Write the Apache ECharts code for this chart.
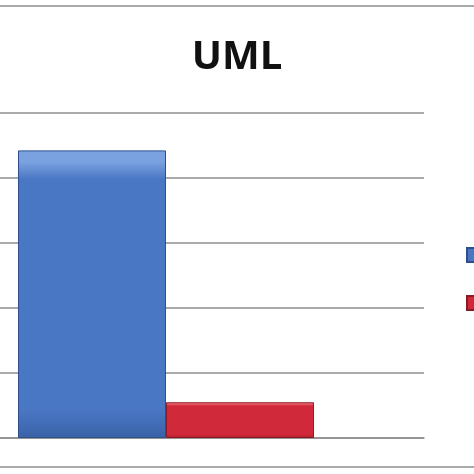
<!DOCTYPE html>
<html>
<head>
<meta charset="utf-8">
<script src="https://cdn.jsdelivr.net/npm/echarts@6/dist/echarts.min.js"></script>
<style>html,body{margin:0;padding:0;background:#fff}#c{width:474px;height:474px}</style>
</head>
<body>
<div id="c"></div>
<script>
var categories = ['UML'];
var seriesNames = ['Yes', 'No'];
var blueValues = [88.5];
var redValues = [11];
var yTicks = [0, 20, 40, 60, 80, 100];

var chart = echarts.init(document.getElementById('c'), null, {renderer: 'canvas'});
function grad(light, main, dark) {
  return new echarts.graphic.LinearGradient(0, 0, 0, 1, [
    {offset: 0, color: light},
    {offset: 0.04, color: light},
    {offset: 0.1, color: main},
    {offset: 0.9, color: main},
    {offset: 1, color: dark}
  ]);
}
chart.setOption({
  animation: false,
  backgroundColor: '#ffffff',
  title: {
    text: 'UML',
    left: 'center',
    top: 33,
    textStyle: {fontFamily: 'Open Sans', fontWeight: 'bold', fontSize: 40, color: '#111'}
  },
  graphic: [{
    type: 'rect',
    shape: {x: -2, y: 6, width: 478, height: 461},
    style: {fill: 'none', stroke: '#8e8e8e', lineWidth: 1.5},
    silent: true
  }],
  legend: {
    orient: 'vertical',
    left: 466,
    top: 247,
    padding: 0,
    itemWidth: 14,
    itemHeight: 14,
    itemGap: 32,
    icon: 'rect',
    textStyle: {fontSize: 12, color: '#333'},
    data: seriesNames
  },
  grid: {left: -92, width: 516, top: 113, bottom: 36, outerBoundsMode: 'none', containLabel: false},
  xAxis: {
    type: 'category',
    data: categories,
    axisLine: {show: true, lineStyle: {color: '#8e8e8e', width: 1.5}},
    axisTick: {show: false},
    axisLabel: {show: false}
  },
  yAxis: {
    type: 'value',
    min: yTicks[0],
    max: yTicks[yTicks.length - 1],
    interval: yTicks[1] - yTicks[0],
    axisLine: {show: false},
    axisTick: {show: false},
    axisLabel: {show: false},
    splitLine: {lineStyle: {color: '#8e8e8e', width: 1.5}}
  },
  series: [{
    name: seriesNames[0],
    type: 'bar',
    data: blueValues,
    barWidth: 148,
    barGap: '0%',
    itemStyle: {color: grad('#7aa2e0', '#4a77c4', '#3a62a8'), borderColor: '#2e4f8c', borderWidth: 1}
  }, {
    name: seriesNames[1],
    type: 'bar',
    data: redValues,
    barWidth: 148,
    barGap: '0%',
    itemStyle: {color: grad('#ee6a74', '#d02a3a', '#b01f2c'), borderColor: '#8a1a24', borderWidth: 1}
  }]
});
</script>
</body>
</html>
